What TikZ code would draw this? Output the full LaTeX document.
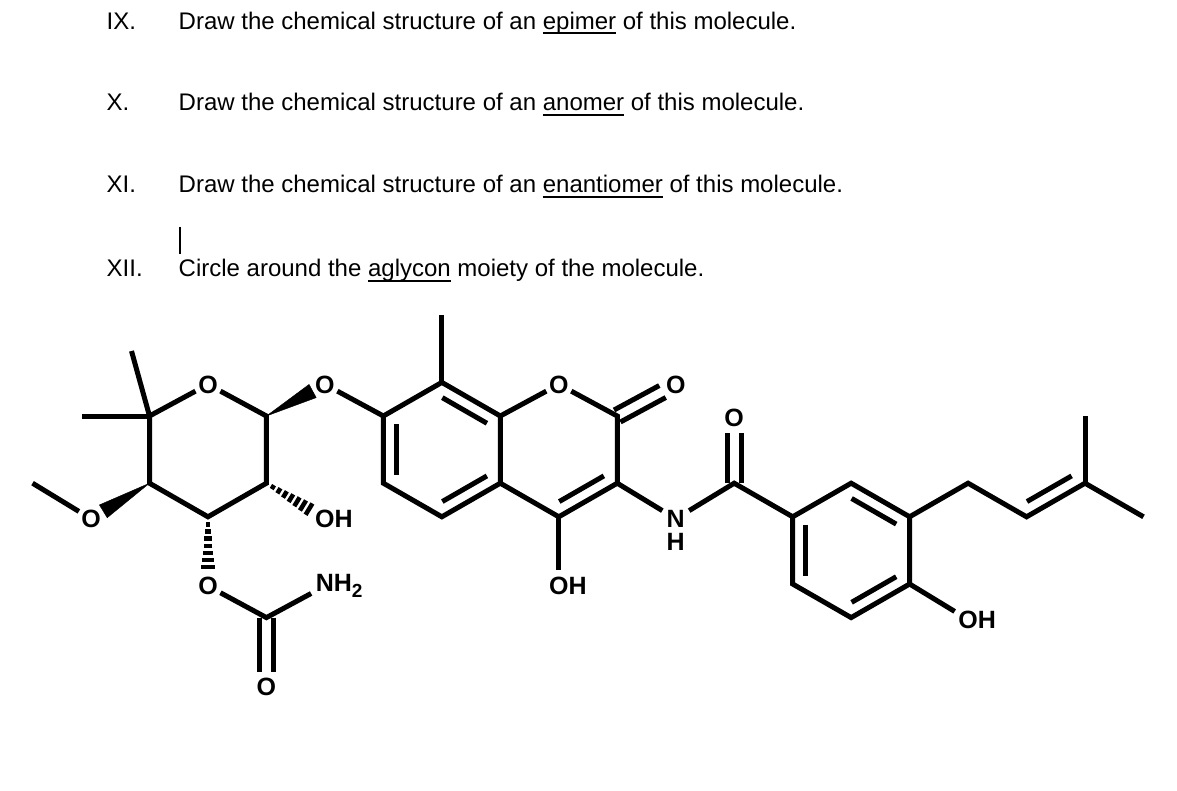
\documentclass[tikz,border=0pt]{standalone}
\usepackage{fontspec}
\setmainfont{Liberation Sans}
\usetikzlibrary{calc,positioning}
\newcommand{\ulword}[1]{\setbox0\hbox{#1}\rlap{\rule[-4.6pt]{\wd0}{2pt}}\box0\relax}

\begin{document}
\begin{tikzpicture}[x=1pt, y=1pt,
    on grid,
node distance = 33.6pt and 58.47pt,
    txt/.style = {anchor=base west, inner sep=0pt, font=\fontsize{24}{28}\selectfont},
    bond/.style = {line width=5pt, line join=miter, miter limit=10},
    atom/.style = {anchor=center, circle, inner sep=0pt, minimum size=28pt, yshift=-2pt,
                   font=\bfseries\fontsize{25}{25}\selectfont},
    atomh/.style = {atom, minimum size=31pt},
    inbond/.style = {to path={($(\tikztostart)!8pt!(\tikztotarget)!13pt!90:(\tikztotarget)$)
                           -- ($(\tikztotarget)!8pt!(\tikztostart)!13pt!-90:(\tikztostart)$)}},
    cobond/.style = {to path={($(\tikztostart)!#1!90:(\tikztotarget)$)
                           -- ($(\tikztotarget)!15pt!(\tikztostart)!#1!-90:(\tikztostart)$)}},
    wedge/.style = {fill=black, line width=.4pt,
                    to path={-- ($(\tikztostart)!.79!(\tikztotarget)!7.5pt!90:(\tikztotarget)$)
                             -- ($(\tikztostart)!.79!(\tikztotarget)!7.5pt!-90:(\tikztotarget)$) -- cycle}}
                    ]
\useasboundingbox (0,0) rectangle (1177,-791);
% question lines
\node (n9)  [txt] at (106.5,-29.5) {IX.};
\node (n10) [txt] at (106.5,-111)  {X.};
\node (n11) [txt] at (106.5,-193)  {XI.};
\node (n12) [txt] at (106.5,-277)  {XII.};
\node (q9)  [txt] at (178.5,-29.5) {Draw the chemical structure of an \ulword{epimer} of this molecule.};
\node (q10) [txt] at (178.5,-111)  {Draw the chemical structure of an \ulword{anomer} of this molecule.};
\node (q11) [txt] at (178.5,-193)  {Draw the chemical structure of an \ulword{enantiomer} of this molecule.};
\node (q12) [txt] at (178.5,-277)  {Circle around the \ulword{aglycon} moiety of the molecule.};
\coordinate (cur1) at (180,-227);
\coordinate (cur2) at (180,-254);
\draw[line width=1.5pt] (cur1) -- (cur2);
% sugar ring
\coordinate (gem) at (149.5,-416);
\coordinate [below=67.2pt of gem] (ca1);
\coordinate [below right=of ca1] (ca2);
\coordinate [above right=of ca2] (ca3);
\coordinate [above=67.2pt of ca3] (ca4);
\node (ro)  [above right=of gem,atom]           {O};
\coordinate [above left=65pt and 18pt of gem] (me1);
\coordinate [left=67.2pt of gem] (me2);
\node (om)  [below left=of ca1,atom]            {O};
\coordinate [left=116.94pt of ca1] (me3);
\node (og)  [above right=of ca4,atom]           {O};
\node (oh1) [below right=of ca3,atomh]          {O\rlap{H}};
\node (oc)  [below=67.2pt of ca2,atom]          {O};
\coordinate [below right=100.8pt and 58.47pt of ca2] (cc);
\node (nh2) [above right=of cc,atomh]
            {N\rlap{H\raisebox{-6pt}{\fontsize{19}{19}\selectfont 2}}};
\node (co1) [below=67.2pt of cc,atom]           {O};
% coumarin
\coordinate [right=116.94pt of ca4] (a1);
\coordinate [above right=of a1] (a2);
\coordinate [below right=of a2] (a3);
\coordinate [below=67.2pt of a3] (a4);
\coordinate [below left=of a4] (a5);
\coordinate [above left=of a5] (a6);
\coordinate [above=67.2pt of a2] (me4);
\node (o2)  [above right=of a3,atom]            {O};
\coordinate [right=116.94pt of a3] (lc);
\coordinate [below=67.2pt of lc] (c3);
\coordinate [below left=of c3] (c4);
\node (co2) [above right=of lc,atom]            {O};
\node (oh2) [below=67.2pt of c4,atomh]          {O\rlap{H}};
% amide
\node (n)   [below right=of c3,atomh]           {N};
\node (hn)  [below=21pt of n,atom]              {H};
\coordinate [right=116.94pt of c3] (am);
\node (co3) [above=67.2pt of am,atom]           {O};
% phenol and side chain
\coordinate [below right=of am] (b1);
\coordinate [above right=of b1] (b2);
\coordinate [below right=of b2] (b3);
\coordinate [below=67.2pt of b3] (b4);
\coordinate [below left=of b4] (b5);
\coordinate [above left=of b5] (b6);
\node (oh3) [below right=of b4,atomh]           {O\rlap{H}};
\coordinate [above right=of b3] (d1);
\coordinate [below right=of d1] (d2);
\coordinate [above right=of d2] (d3);
\coordinate [above=67.2pt of d3] (me5);
\coordinate [below right=of d3] (me6);
% rings and chains
\draw[bond] (ro) -- (gem) -- (ca1) -- (ca2) -- (ca3) -- (ca4) -- (ro);
\draw[bond] (a1) -- (a2) -- (a3) -- (a4) -- (a5) -- (a6) -- cycle;
\draw[bond] (a3) -- (o2) -- (lc) -- (c3) -- (c4) -- (a4);
\draw[bond] (b1) -- (b2) -- (b3) -- (b4) -- (b5) -- (b6) -- cycle;
\draw[bond] (b3) -- (d1) -- (d2) -- (d3) -- (me6);
\draw[bond] (oc) -- (cc) -- (nh2);
\draw[bond] (c3) -- (n) -- (am) -- (b1);
\draw[bond] (me3) -- (om);
\draw[bond] (og) -- (a1);
\path[bond]
    (gem) edge (me1)
    (gem) edge (me2)
    (a2)  edge (me4)
    (c4)  edge (oh2)
    (b4)  edge (oh3)
    (d3)  edge (me5)
    (cc)  edge [cobond=6.8pt]  (co1)
    (cc)  edge [cobond=-6.8pt] (co1)
    (lc)  edge [cobond=6.8pt]  (co2)
    (lc)  edge [cobond=-6.8pt] (co2)
    (am)  edge [cobond=6.8pt]  (co3)
    (am)  edge [cobond=-6.8pt] (co3)
    (a1)  edge [inbond] (a6)
    (a5)  edge [inbond] (a4)
    (a3)  edge [inbond] (a2)
    (c4)  edge [inbond] (c3)
    (b1)  edge [inbond] (b6)
    (b5)  edge [inbond] (b4)
    (b3)  edge [inbond] (b2)
    (d2)  edge [inbond] (d3)
    (ca4) edge [wedge]  (og)
    (ca1) edge [wedge]  (om);
% hashed bonds
\foreach \from/\to in {ca2/oc,ca3/oh1}
  \foreach \t in {.11,.213,...,.74}
    \draw[line width=4.5pt]
        ($(\from)!\t!(\to)!1.5pt+\t*7pt!90:(\to)$) -- ($(\from)!\t!(\to)!1.5pt+\t*7pt!-90:(\to)$);
\end{tikzpicture}
\end{document}
